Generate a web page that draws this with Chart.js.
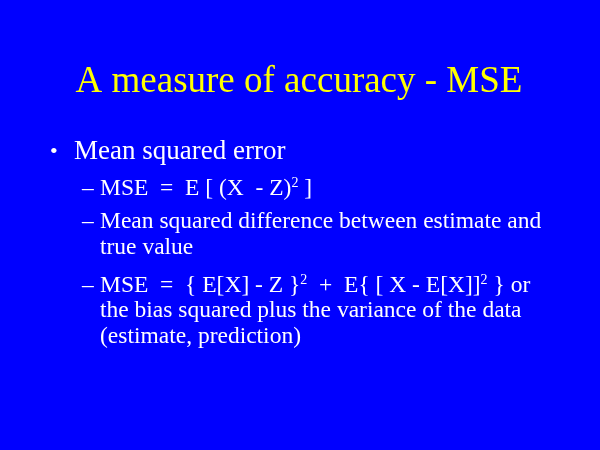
<!DOCTYPE html>
<html>
<head>
<meta charset="utf-8">
<script src="https://cdn.jsdelivr.net/npm/chart.js@4.4.1/dist/chart.umd.min.js"></script>
<style>
  html, body { margin: 0; padding: 0; background: #0000ff; }
  #wrap { width: 600px; height: 450px; }
</style>
</head>
<body>
<div id="wrap"><canvas id="slide"></canvas></div>
<script>
// slide text, one entry per line; [text, 'sup'] marks a superscript piece
const titleText = 'A measure of accuracy - MSE';
const bulletText = 'Mean squared error';
const subItems = [
  [[['MSE  =  E [ (X  - Z)'], ['2', 'sup'], [' ]']]],
  [[['Mean squared difference between estimate and']], [['true value']]],
  [[['MSE  =  { E[X] - Z }'], ['2', 'sup'], ['  +  E{ [ X - E[X]]'], ['2', 'sup'], [' } or']],
   [['the bias squared plus the variance of the data']],
   [['(estimate, prediction)']]]
];
const subBaselines = [[195], [228, 254], [292, 317, 343]];

const SERIF = '"Liberation Serif", "Times New Roman", serif';

const slidePlugin = {
  id: 'slideText',
  beforeDraw(chart) {
    const ctx = chart.ctx;
    ctx.save();
    ctx.fillStyle = '#0000ff';
    ctx.fillRect(0, 0, chart.width, chart.height);

    // title
    ctx.fillStyle = '#ffff00';
    ctx.font = '37px ' + SERIF;
    ctx.textAlign = 'center';
    ctx.textBaseline = 'alphabetic';
    ctx.fillText(titleText, 299, 92);

    // main bullet
    ctx.fillStyle = '#ffffff';
    ctx.textAlign = 'left';
    ctx.font = '22px ' + SERIF;
    ctx.fillText('\u2022', 50, 158);
    ctx.font = '27px ' + SERIF;
    ctx.fillText(bulletText, 74, 159);

    // sub bullets
    subItems.forEach((item, i) => {
      item.forEach((line, j) => {
        const y = subBaselines[i][j];
        ctx.font = '23.5px ' + SERIF;
        if (j === 0) ctx.fillText('\u2013', 82, y);
        let x = 100;
        line.forEach(seg => {
          if (seg[1] === 'sup') {
            ctx.font = '14px ' + SERIF;
            ctx.fillText(seg[0], x, y - 8);
            x += ctx.measureText(seg[0]).width;
            ctx.font = '23.5px ' + SERIF;
          } else {
            ctx.fillText(seg[0], x, y);
            x += ctx.measureText(seg[0]).width;
          }
        });
      });
    });
    ctx.restore();
  }
};

new Chart(document.getElementById('slide'), {
  type: 'scatter',
  data: { datasets: [] },
  options: {
    responsive: true,
    maintainAspectRatio: false,
    animation: false,
    devicePixelRatio: 1,
    plugins: { legend: { display: false }, tooltip: { enabled: false } },
    scales: { x: { display: false }, y: { display: false } }
  },
  plugins: [slidePlugin]
});
</script>
</body>
</html>
